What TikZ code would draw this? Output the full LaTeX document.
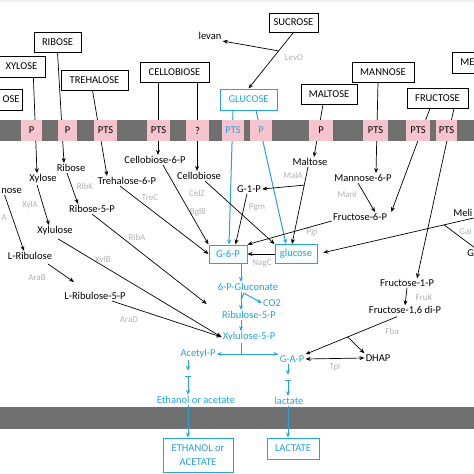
\documentclass[tikz,border=0pt]{standalone}
\usepackage{fontspec}
\setmainfont{Carlito}
\usetikzlibrary{arrows.meta}
\definecolor{sugblue}{RGB}{36,164,216}
\definecolor{ptspink}{RGB}{246,196,206}
\definecolor{membgray}{RGB}{112,112,112}
\definecolor{enzgray}{RGB}{178,178,178}
\tikzset{
	sbox/.style={draw, line width=0.8pt, fill=white, minimum height=20pt, inner sep=0pt, font=\fontsize{10.5}{14}\selectfont},
	bbox/.style={sbox, draw=sugblue, text=sugblue, line width=1pt},
	tp/.style={fill=ptspink, minimum height=21pt, inner sep=0pt, font=\fontsize{10.5}{12}\selectfont},
	met/.style={inner sep=1pt, font=\fontsize{10.5}{12}\selectfont},
	bmet/.style={met, text=sugblue},
	enz/.style={inner sep=1pt, text=enzgray, font=\fontsize{9}{10}\selectfont},
	bl/.style={draw=sugblue, line width=1pt},
}
\begin{document}
\begin{tikzpicture}[x=1pt, y=-1pt, >={Stealth[length=5pt,width=4pt]}, line width=0.7pt]
		\clip (0,0) rectangle (474,474);
		\fill[gray!12] (0,0) rectangle (474,2);
		\fill[membgray] (0,407) rectangle (474,429);
		
		\node[sbox, anchor=east, text width=18pt, align=right, inner xsep=3pt, minimum height=21pt] (arabox) at (23,99.5) {OSE};
		\draw[line width=0.8pt] (arabox.north west) -- ++(-10,0) (arabox.south west) -- ++(-10,0);
		\node[sbox, minimum width=47pt, minimum height=21pt] (xylbox) at (21.5,66.5) {XYLOSE};
		\node[sbox, minimum width=47pt] (ribbox) at (57.5,42) {RIBOSE};
		\node[sbox, minimum width=67pt] (trebox) at (94.5,80) {TREHALOSE};
		\node[sbox, minimum width=69pt] (celbox) at (174.5,72) {CELLOBIOSE};
		\node[sbox, minimum width=49pt, minimum height=19pt] (sucbox) at (293.5,22.5) {SUCROSE};
		\node[bbox, minimum width=57pt, minimum height=21pt] (glcbox) at (248.5,99.5) {GLUCOSE};
		\node[sbox, minimum width=56pt] (malbox) at (329,94) {MALTOSE};
		\node[sbox, minimum width=62pt] (manbox) at (383,72) {MANNOSE};
		\node[sbox, minimum width=61pt] (frubox) at (437.5,98) {FRUCTOSE};
		\node[sbox, anchor=west, text width=20pt, inner xsep=8pt, minimum height=21pt] (melbox) at (452,62.5) {ME};
		
		\node[met] (levan) at (210,36) {levan};
		\node[met, anchor=west] (arab) at (0,191) {nose};
		\node[met] (xylose) at (43,179) {Xylose};
		\node[met] (ribose) at (71,168) {Ribose};
		\node[met] (tre6p) at (127,181) {Trehalose-6-P};
		\node[met] (cel6p) at (155,160) {Cellobiose-6-P};
		\node[met] (cello) at (199,176) {Cellobiose};
		\node[met] (maltose) at (310,162) {Maltose};
		\node[met] (man6p) at (363,178) {Mannose-6-P};
		\node[met] (fru6p) at (360,217) {Fructose-6-P};
		\node[met, anchor=west] (meli) at (452,213) {Meli};
		\node[met, anchor=west] (gfrag) at (466,253) {G};
		\node[met] (fru1p) at (407,283) {Fructose-1-P};
		\node[met] (fru16) at (405,311) {Fructose-1,6 di-P};
		\node[met] (dhap) at (378,358) {DHAP};
		\node[met] (g1p) at (249,189) {G-1-P};
		\node[met] (rib5p) at (92,209) {Ribose-5-P};
		\node[met] (xylulose) at (55,231) {Xylulose};
		\node[met] (lribulose) at (30,256) {L-Ribulose};
		\node[met] (lru5p) at (95,296) {L-Ribulose-5-P};
		
		\node[bbox, fill=sugblue!4, minimum width=38pt, minimum height=18pt] (g6pbox) at (228,254) {G-6-P};
		\node[bbox, fill=sugblue!4, minimum width=42pt, minimum height=19pt] (glubox) at (296,254) {glucose};
		\node[bmet] (gluconate) at (248,287) {6-P-Gluconate};
		\node[bmet] (co2) at (272,303) {CO2};
		\node[bmet] (ru5p) at (249,315) {Ribulose-5-P};
		\node[bmet] (xu5p) at (249,337) {Xylulose-5-P};
		\node[bmet] (acetylp) at (198,354) {Acetyl-P};
		\node[bmet] (gap) at (292,359) {G-A-P};
		\node[bmet] (ethac) at (196,400) {Ethanol or acetate};
		\node[bmet] (lactate) at (289,401) {lactate};
		\node[bbox, minimum width=70pt, minimum height=34pt, align=center] (etbox) at (198,455) {ETHANOL or\\ACETATE};
		\node[bbox, minimum width=52pt, minimum height=21pt] (labox) at (293,448.5) {LACTATE};
		
		\node[enz] (levO) at (294,58) {LevO};
		\node[enz] (ribK) at (85,186) {RibK};
		\node[enz] (xylA) at (30,205) {XylA};
		\node[enz, anchor=west] (araA) at (0,218) {A};
		\node[enz] (treC) at (150,198) {TreC};
		\node[enz] (ribA) at (137,237) {RibA};
		\node[enz] (xylB) at (103,260) {XylB};
		\node[enz] (araB) at (37,278) {AraB};
		\node[enz] (araD) at (129,320) {AraD};
		\node[enz] (celZ) at (197,193) {CelZ};
		\node[enz] (bglB) at (198,212) {BglB};
		\node[enz] (malA) at (293,175) {MalA};
		\node[enz] (pgm) at (257,207) {Pgm};
		\node[enz] (pgi) at (312,232) {Pgi};
		\node[enz] (nagC) at (262,263) {NagC};
		\node[enz] (manI) at (347,195) {ManI};
		\node[enz, anchor=west] (galA) at (458,231) {Gal};
		\node[enz] (fruK) at (424,298) {FruK};
		\node[enz] (fba) at (392,331) {Fba};
		\node[enz] (tpi) at (335,367) {Tpi};
		
		\draw[->] ([xshift=-12pt]xylbox.south east) -- ([xshift=-6pt]xylose.north);
		\draw[->] (ribbox.south) -- ([xshift=-7pt]ribose.north);
		\draw[->] ([xshift=-2pt]trebox.south) -- ([xshift=-20pt]tre6p.north);
		\draw[->] ([xshift=-16.5pt]celbox.south) -- ([xshift=3pt]cel6p.north);
		\draw[->] ([xshift=22.5pt]celbox.south) -- ([xshift=-2pt]cello.north);
		\draw[->] (sucbox.south) -- (glcbox.north) coordinate[pos=0.33] (levsplit);
		\draw[->] (levsplit) -- (levan.south east);
		\draw[->] ([xshift=-6pt]malbox.south) -- ([xshift=4pt]maltose.north);
		\draw[->] ([xshift=-5pt]manbox.south) -- ([xshift=13pt]man6p.north);
		\draw[->] ([xshift=-7.5pt]frubox.south) -- ([xshift=3pt]fru6p.north east);
		\draw[->] ([xshift=16.5pt]frubox.south) -- ([xshift=10pt]fru1p.north);
		\draw[bl,->] ([xshift=-15.5pt]glcbox.south) -- ([xshift=1pt]g6pbox.north);
		\draw[bl,->] ([xshift=7.5pt]glcbox.south) -- ([xshift=-10pt]glubox.north);
		
		\draw[->] ([xshift=-6pt]xylose.south) -- ([xshift=-6pt]xylulose.north);
		\draw[->] ([xshift=-7pt]arab.south) -- ([xshift=-6pt]lribulose.north);
		\draw[->] ([xshift=18pt,yshift=-3pt]lribulose.south) -- ([xshift=-21pt,yshift=9pt]lru5p.north);
		\draw[->] ([xshift=-4pt]ribose.south) -- ([xshift=-14pt]rib5p.north);
		\draw[->, shorten >=18pt] (rib5p.south) -- (ru5p.west);
		\draw[->] ([xshift=3pt,yshift=-2pt]xylulose.south) -- (xu5p.west);
		\draw[->] ([xshift=17pt]lru5p.south) -- (xu5p.west);
		\draw[->] ([xshift=-7pt]tre6p.south) -- (g6pbox.west);
		\draw[->] ([xshift=8pt]cel6p.south) -- (g6pbox.north west);
		\draw[->] ([xshift=6pt]cello.south) -- (glubox.north west);
		\draw[->] ([xshift=-2pt]maltose.south) -- ([xshift=-4pt]glubox.north) coordinate[pos=0.235] (malsplit);
		\draw[->] (malsplit) -- (g1p.east);
		\draw[->] ([xshift=-2pt]g1p.south) -- ([xshift=-12pt]g6pbox.north east);
		\draw[->] ([yshift=-4pt]fru6p.west) -- (g6pbox.north east);
		\draw[->] (glubox.west) -- (g6pbox.east);
		\draw[->] ([xshift=-5pt]man6p.south) -- ([xshift=15pt]fru6p.north);
		\draw[->, shorten >=6pt] (meli.south east) -- (glubox.east) coordinate[pos=0.19] (melsplit);
		\draw (melsplit) -- (gfrag.north east);
		\draw[->] (fru1p.south) -- (fru16.north);
		\draw[->] ([xshift=-8pt]fru16.south) -- (gap.north east) coordinate[pos=0.54] (fbasplit);
		\draw[->] (fbasplit) -- (dhap.north west);
		\draw[<->] (gap.east) -- (dhap.west);
		
		\draw[bl,->] ([xshift=13pt]g6pbox.south) -- ([xshift=-7pt]gluconate.north);
		\draw[bl,->] ([xshift=-7pt]gluconate.south) -- ([xshift=-8pt]ru5p.north) coordinate[pos=0.4] (co2split);
		\draw[bl,->] (co2split) -- ++(3,-6) -- (co2.west);
		\draw[bl,->] ([xshift=-8pt]ru5p.south) -- ([xshift=-8pt]xu5p.north);
		\coordinate (xustem) at ([xshift=-8pt]xu5p.south);
		\draw[bl] (xustem) -- (xustem |- acetylp.east);
		\draw[bl,<->] (acetylp.east) -- (acetylp.east -| gap.west);
		\draw[bl,->] ([xshift=-10pt]acetylp.south) -- ++(0,11);
		\draw[bl,->] ([xshift=-10pt]acetylp.south) ++(-3,17) -- ++(6,0) ++(-3,0) -- ([xshift=-8pt]ethac.north);
		\draw[bl,->] ([xshift=-4pt]gap.south) -- ++(0,11);
		\draw[bl,->] ([xshift=-4pt]gap.south) ++(-3,17) -- ++(6,0) ++(-3,0) -- ([xshift=-1pt]lactate.north);
		\draw[bl,->] ([xshift=-8pt]ethac.south) -- ([xshift=-10pt]etbox.north);
		\draw[bl,->] ([xshift=-1pt]lactate.south) -- ([xshift=-5pt]labox.north);
		
		\fill[membgray] (0,120) rectangle (474,141);
		\foreach \px/\pw/\pt/\pc [count=\i] in {31.5/21/P/black, 67.5/19/P/black, 105.5/23/PTS/black, 158.5/23/PTS/black, 197.5/23/?/black, 233/22/PTS/sugblue, 261/22/P/sugblue, 321/24/P/black, 375.5/25/PTS/black, 418/24/PTS/black, 446.5/21/PTS/black}
			\node[tp, minimum width=\pw pt, text=\pc] (tp\i) at (\px,130.5) {\pt};
	\end{tikzpicture}
\end{document}
